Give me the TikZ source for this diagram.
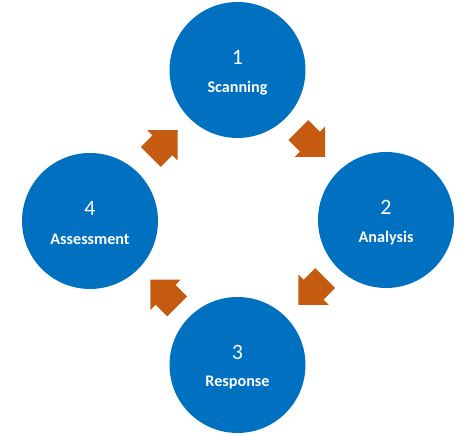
\documentclass[tikz,border=0pt]{standalone}
\usepackage{fontspec}
\setmainfont{Carlito}
\usetikzlibrary{calc}
\definecolor{stageblue}{RGB}{0,112,192}
\definecolor{flowor}{RGB}{197,90,17}
\begin{document}
\begin{tikzpicture}[x=0.02cm, y=0.02cm,
  stage/.style={circle, fill=stageblue, minimum size=2.72cm, inner sep=0pt},
  stagenum/.style={text=white, font=\fontsize{12.5}{14}\selectfont},
  stagetitle/.style={text=white, font=\bfseries\fontsize{9.2}{11}\selectfont},
  flow/.pic={\fill[flowor] (-19,14) -- (-2.5,14) -- (-2.5,21.5) -- (19,0)
      -- (-2.5,-21.5) -- (-2.5,-14) -- (-19,-14) -- cycle;}]
\useasboundingbox (0,0) rectangle (474,436);

\node[stage] (scan) at (237.5,366) {};
\node[stage] (analysis) at (386,216) {};
\node[stage] (response) at (237.5,71) {};
\node[stage] (assess) at (90,215) {};

\node[stagenum] at (237.5,379) {1};
\node[stagetitle] at (237.5,348) {Scanning};
\node[stagenum] at (386,229) {2};
\node[stagetitle] at (386,198) {Analysis};
\node[stagenum] at (237.5,84) {3};
\node[stagetitle] at (237.5,53) {Response};
\node[stagenum] at (90,228) {4};
\node[stagetitle] at (90,197) {Assessment};

\pic[rotate=45] at ($(assess)!0.5!(scan)+(0.5,2)$) {flow};
\pic[rotate=-45] at ($(scan)!0.5!(analysis)+(0,1.5)$) {flow};
\pic[rotate=-135] at ($(analysis)!0.5!(response)+(0,1)$) {flow};
\pic[rotate=135] at ($(response)!0.5!(assess)$) {flow};
\end{tikzpicture}
\end{document}
